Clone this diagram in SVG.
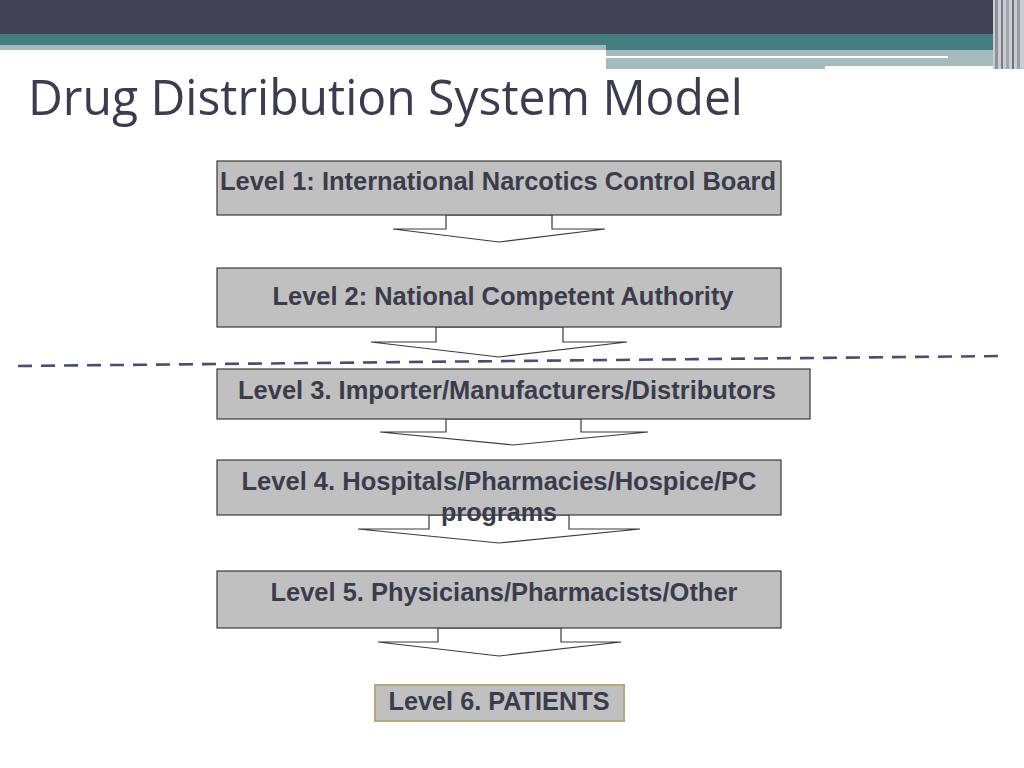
<svg xmlns="http://www.w3.org/2000/svg" width="1024" height="768" viewBox="0 0 1024 768">
<style>
.box{fill:#c0c0c0;stroke:#3a3a3a;stroke-width:1.2}
.arr{fill:#ffffff;stroke:#3a3a3a;stroke-width:1.2;stroke-linejoin:miter}
.lbl{font-family:"Liberation Sans",Arial,sans-serif;font-weight:bold;font-size:25px;fill:#3b3c4b;text-anchor:middle}
</style>
<rect width="1024" height="768" fill="#ffffff"/>
<g id="header">
<rect x="0" y="0" width="1024" height="34" fill="#414255"/>
<rect x="0" y="34" width="1024" height="11" fill="#437f82"/>
<rect x="0" y="45" width="606" height="5" fill="#a4babd"/>
<rect x="606" y="45" width="418" height="5" fill="#437f82"/>
<rect x="606" y="50" width="418" height="6" fill="#a4babd"/>
<rect x="606" y="56" width="342" height="2" fill="#ffffff"/>
<rect x="948" y="56" width="76" height="2" fill="#a4babd"/>
<rect x="606" y="58" width="219" height="11" fill="#a4babd"/>
<rect x="825" y="58" width="170" height="8" fill="#a4babd"/>
<rect x="993" y="0" width="31" height="69" fill="#c9cdd0"/>
<rect x="995" y="0" width="3" height="69" fill="#8e9197"/>
<rect x="1001" y="0" width="2" height="69" fill="#7a7d84"/>
<rect x="1006" y="0" width="3" height="69" fill="#a2a5ab"/>
<rect x="1012" y="0" width="2" height="69" fill="#6f737a"/>
<rect x="1017" y="0" width="3" height="69" fill="#9a9ea4"/>
</g>
<text id="title" x="28" y="115" font-family="'Open Sans','Noto Sans',sans-serif" font-size="50" fill="#3b3c4f" textLength="715" lengthAdjust="spacingAndGlyphs">Drug Distribution System Model</text>
<g id="separator">
<line x1="18" y1="366" x2="1005" y2="356" stroke="#4a4c78" stroke-width="2.6" stroke-dasharray="14,9"/>
</g>
<g id="connectors">
<polygon class="arr" points="446,215 446,229 393,229 499,242 605,229 552,229 552,215"/>
<polygon class="arr" points="436,327 436,342 371,342 499,357 627,342 563,342 563,327"/>
<polygon class="arr" points="446,419 446,432 380,432 513,445 648,432 581,432 581,419"/>
<polygon class="arr" points="429,515 429,529 358,529 499,543 640,529 569,529 569,515"/>
<polygon class="arr" points="438,628 438,642 378,642 499,656 621,642 561,642 561,628"/>
</g>
<g id="level1">
<rect class="box" x="217" y="161" width="564" height="54"/>
<text class="lbl" x="498" y="190" textLength="556" lengthAdjust="spacingAndGlyphs">Level 1: International Narcotics Control Board</text>
</g>
<g id="level2">
<rect class="box" x="217" y="268" width="564" height="59"/>
<text class="lbl" x="503" y="305" textLength="461" lengthAdjust="spacingAndGlyphs">Level 2: National Competent Authority</text>
</g>
<g id="level3">
<rect class="box" x="217" y="369" width="593" height="50"/>
<text class="lbl" x="507" y="399" textLength="538" lengthAdjust="spacingAndGlyphs">Level 3. Importer/Manufacturers/Distributors</text>
</g>
<g id="level4">
<rect class="box" x="217" y="460" width="564" height="55"/>
<text class="lbl" x="499" y="490" textLength="515" lengthAdjust="spacingAndGlyphs">Level 4. Hospitals/Pharmacies/Hospice/PC</text>
<text class="lbl" x="499" y="521" textLength="116" lengthAdjust="spacingAndGlyphs">programs</text>
</g>
<g id="level5">
<rect class="box" x="217" y="571" width="564" height="57"/>
<text class="lbl" x="504" y="601" textLength="467" lengthAdjust="spacingAndGlyphs">Level 5. Physicians/Pharmacists/Other</text>
</g>
<g id="level6">
<rect x="375" y="685" width="249" height="36" fill="#c0c0c0" stroke="#b9a77c" stroke-width="2"/>
<text class="lbl" x="499" y="710" textLength="221" lengthAdjust="spacingAndGlyphs">Level 6. PATIENTS</text>
</g>
</svg>
